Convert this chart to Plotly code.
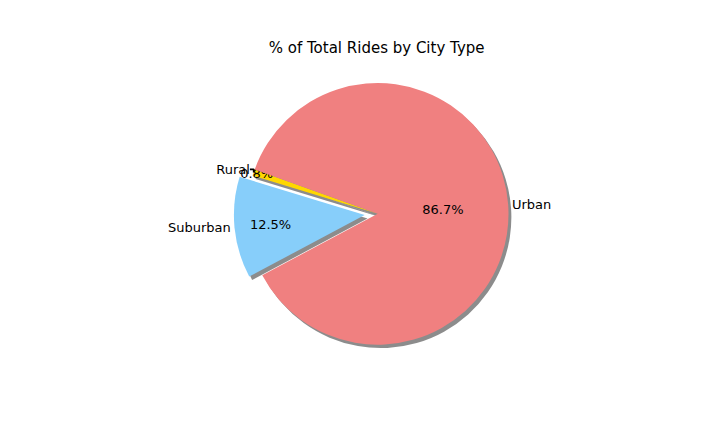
import plotly.graph_objects as go

city_types = ["Rural", "Suburban", "Urban"]
ride_pct = [0.8, 12.5, 86.7]
colors = ["gold", "lightskyblue", "lightcoral"]
explode = [0, 0.1, 0]

dom_x = [0.3135, 0.7135]
dom_y = [0.1905, 0.8565]
common = dict(values=ride_pct, sort=False, direction="counterclockwise",
              rotation=-73, pull=explode, hoverinfo="skip", showlegend=False)

fig = go.Figure()
# shadow
fig.add_trace(go.Pie(labels=city_types, **common, textinfo="none",
                     marker=dict(colors=["rgba(0,0,0,0.45)"] * 3, line=dict(width=0)),
                     domain=dict(x=[dom_x[0] + 0.004, dom_x[1] + 0.004],
                                 y=[dom_y[0] - 0.008, dom_y[1] - 0.008])))
# wedges with percentages
fig.add_trace(go.Pie(labels=city_types, **common, texttemplate="%{value:.1f}%",
                     textposition="inside", insidetextorientation="horizontal",
                     textfont=dict(color="black", size=13),
                     marker=dict(colors=colors, line=dict(width=0)),
                     domain=dict(x=dom_x, y=dom_y)))
# outside labels
fig.add_trace(go.Pie(labels=city_types, **common, textinfo="label",
                     textposition="outside", textfont=dict(color="black", size=13),
                     marker=dict(colors=["rgba(0,0,0,0)"] * 3, line=dict(width=0)),
                     domain=dict(x=dom_x, y=dom_y)))

fig.update_layout(
    width=720, height=432,
    margin=dict(l=0, r=0, t=0, b=0),
    paper_bgcolor="white",
    font=dict(family="DejaVu Sans", size=13, color="black"),
    uniformtext=dict(minsize=13, mode="show"),
    title=dict(text="% of Total Rides by City Type", x=0.512, xanchor="center",
               y=1 - 40 / 432, yanchor="middle", font=dict(size=15)),
)

fig.write_html("out.html")
